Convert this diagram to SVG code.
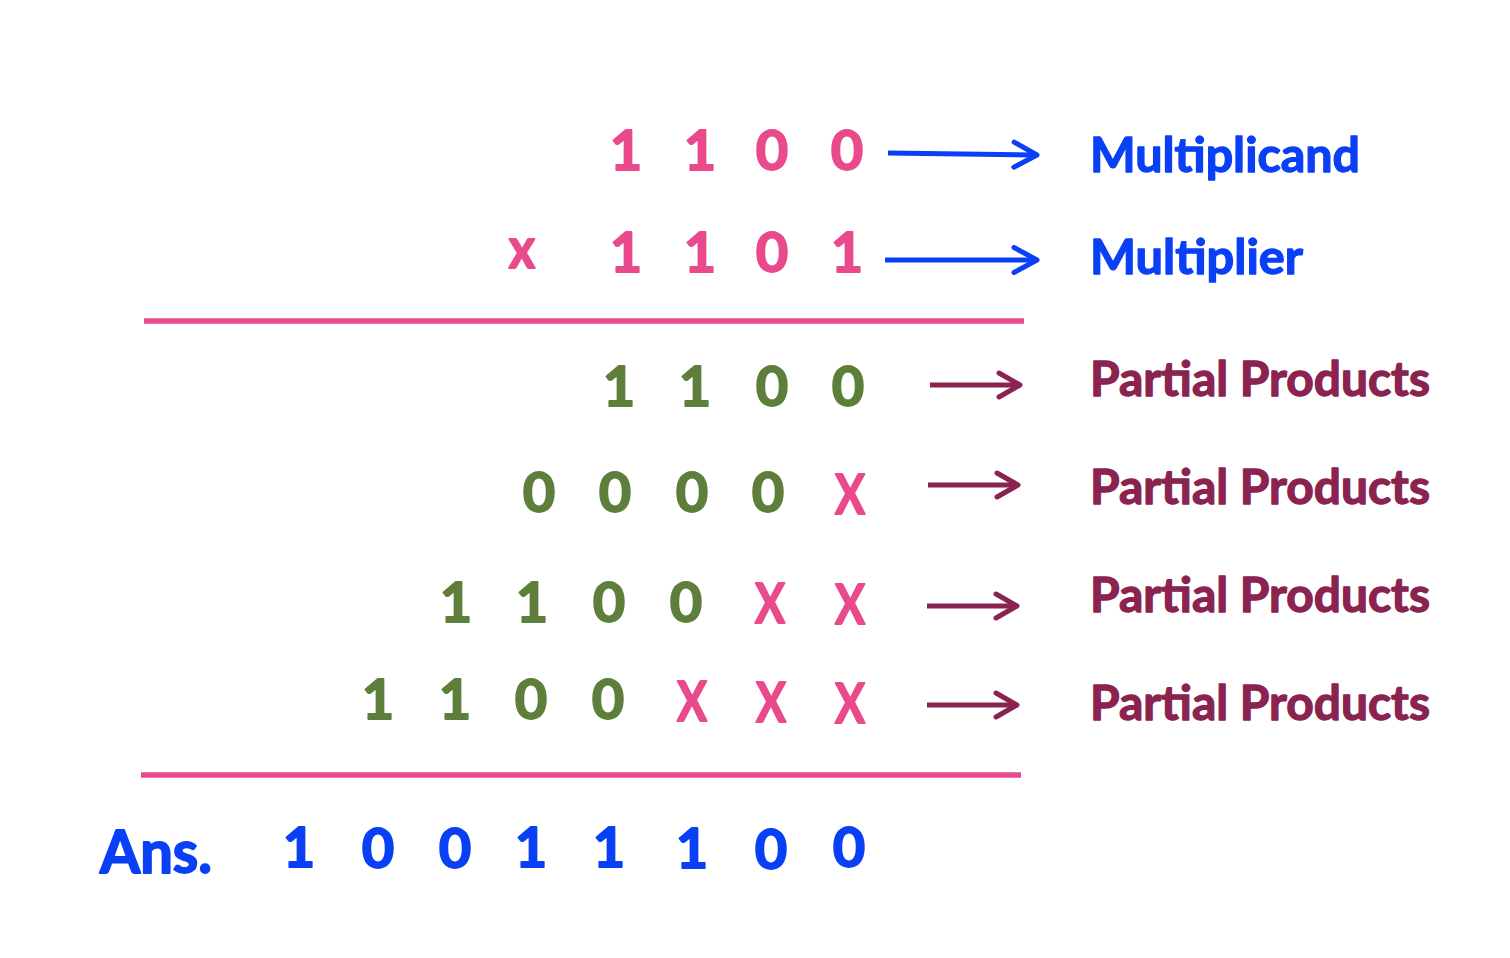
<svg xmlns="http://www.w3.org/2000/svg" width="1510" height="958" viewBox="0 0 1510 958">
<defs>
<style>
text{font-family:Lato,"Carlito","Open Sans",sans-serif;font-weight:bold;stroke-linejoin:round;}
.d{font-size:56px;text-anchor:middle;stroke-width:1.8px;}
.x{font-size:56px;text-anchor:middle;stroke-width:1.8px;}
.pk{fill:#E94A8C;stroke:#E94A8C;}
.gr{fill:#5E7F3B;stroke:#5E7F3B;}
.bl{fill:#0A40F5;stroke:#0A40F5;}
.mr{fill:#8A2350;stroke:#8A2350;}
.lbl{font-size:48px;stroke-width:1.3px;}
.ans{font-size:59px;stroke-width:1.8px;}
.rule{stroke:#E94A8C;stroke-width:5.5;}
.ab{stroke:#0A40F5;stroke-width:5;fill:none;marker-end:url(#hb);}
.am{stroke:#8A2350;stroke-width:5;fill:none;marker-end:url(#hm);}
</style>
<marker id="hb" markerUnits="userSpaceOnUse" viewBox="-30 -16 34 32" refX="0" refY="0" markerWidth="34" markerHeight="32" orient="auto" overflow="visible">
<path d="M-23,-12.5 L0,0 L-23,12.5" fill="none" stroke="#0A40F5" stroke-width="5" stroke-linecap="round" stroke-linejoin="round"/>
</marker>
<marker id="hm" markerUnits="userSpaceOnUse" viewBox="-30 -16 34 32" refX="0" refY="0" markerWidth="34" markerHeight="32" orient="auto" overflow="visible">
<path d="M-21,-12 L0,0 L-21,12" fill="none" stroke="#8A2350" stroke-width="5" stroke-linecap="round" stroke-linejoin="round"/>
</marker>
</defs>
<rect width="1510" height="958" fill="#FFFFFF"/>

<g id="multiplicand-row">
<text class="d pk" x="626" y="170">1</text>
<text class="d pk" x="700" y="170">1</text>
<text class="d pk" x="772" y="170">0</text>
<text class="d pk" x="847" y="170">0</text>
</g>
<g id="multiplier-row">
<text class="x pk" transform="translate(522,268) scale(0.9,1)">x</text>
<text class="d pk" x="626" y="272">1</text>
<text class="d pk" x="700" y="272">1</text>
<text class="d pk" x="772" y="272">0</text>
<text class="d pk" x="847" y="272">1</text>
</g>
<g id="label-multiplicand"><text class="lbl bl" x="1090" y="172" textLength="270" lengthAdjust="spacingAndGlyphs">Multiplicand</text></g>
<g id="label-multiplier"><text class="lbl bl" x="1090" y="274" textLength="213" lengthAdjust="spacingAndGlyphs">Multiplier</text></g>

<g id="rules">
<line class="rule" x1="144" y1="321" x2="1024" y2="321"/>
<line class="rule" x1="141" y1="775" x2="1021" y2="775"/>
</g>

<g id="partial-1">
<text class="d gr" x="619" y="406">1</text>
<text class="d gr" x="695" y="406">1</text>
<text class="d gr" x="772" y="406">0</text>
<text class="d gr" x="848" y="406">0</text>
</g>
<g id="partial-2">
<text class="d gr" x="539" y="512">0</text>
<text class="d gr" x="615" y="512">0</text>
<text class="d gr" x="692" y="512">0</text>
<text class="d gr" x="768" y="512">0</text>
<text class="x pk" transform="translate(850,514) scale(0.8,1)">X</text>
</g>
<g id="partial-3">
<text class="d gr" x="456" y="622">1</text>
<text class="d gr" x="532" y="622">1</text>
<text class="d gr" x="609" y="622">0</text>
<text class="d gr" x="686" y="622">0</text>
<text class="x pk" transform="translate(770,623) scale(0.8,1)">X</text>
<text class="x pk" transform="translate(850,624) scale(0.8,1)">X</text>
</g>
<g id="partial-4">
<text class="d gr" x="378" y="719">1</text>
<text class="d gr" x="455" y="719">1</text>
<text class="d gr" x="531" y="719">0</text>
<text class="d gr" x="608" y="719">0</text>
<text class="x pk" transform="translate(692,721) scale(0.8,1)">X</text>
<text class="x pk" transform="translate(771,722) scale(0.8,1)">X</text>
<text class="x pk" transform="translate(850,723) scale(0.8,1)">X</text>
</g>

<g id="label-pp1"><text class="lbl mr" x="1090" y="396" textLength="340" lengthAdjust="spacingAndGlyphs">Partial Products</text></g>
<g id="label-pp2"><text class="lbl mr" x="1090" y="504" textLength="340" lengthAdjust="spacingAndGlyphs">Partial Products</text></g>
<g id="label-pp3"><text class="lbl mr" x="1090" y="612" textLength="340" lengthAdjust="spacingAndGlyphs">Partial Products</text></g>
<g id="label-pp4"><text class="lbl mr" x="1090" y="720" textLength="340" lengthAdjust="spacingAndGlyphs">Partial Products</text></g>

<g id="answer">
<text class="ans bl" x="100" y="873" textLength="112" lengthAdjust="spacingAndGlyphs">Ans.</text>
<text class="d bl" x="299" y="867">1</text>
<text class="d bl" x="378" y="868">0</text>
<text class="d bl" x="455" y="868">0</text>
<text class="d bl" x="531" y="867">1</text>
<text class="d bl" x="609" y="867">1</text>
<text class="d bl" x="692" y="868">1</text>
<text class="d bl" x="771" y="869">0</text>
<text class="d bl" x="849" y="867">0</text>
</g>

<g id="connectors">
<path class="ab" d="M888,153 L1037,155"/>
<path class="ab" d="M885,260 L1037,260"/>
<path class="am" d="M930,385 L1020,385"/>
<path class="am" d="M928,485 L1018,485"/>
<path class="am" d="M927,606 L1017,606"/>
<path class="am" d="M927,705 L1017,705"/>
</g>
</svg>
